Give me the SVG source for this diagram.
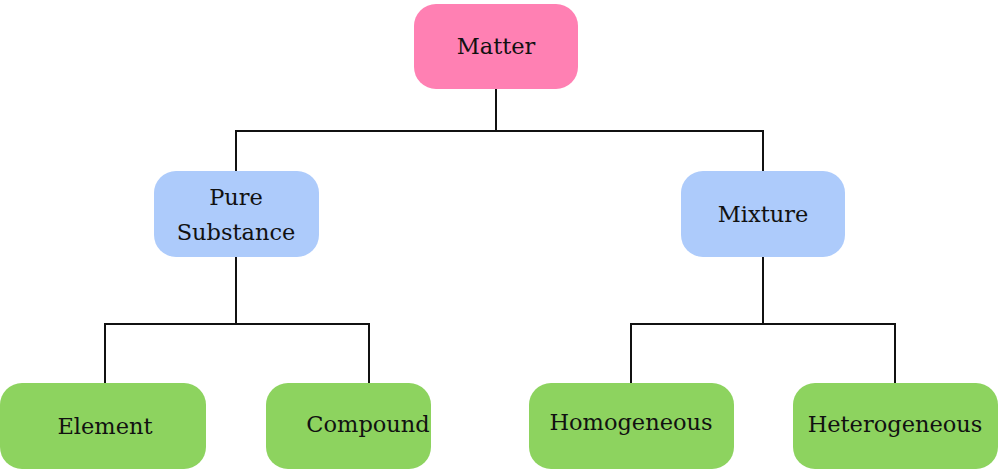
<svg xmlns="http://www.w3.org/2000/svg" width="1000" height="473" viewBox="0 0 1000 473">
<style>
.t{font-family:"DejaVu Serif","Liberation Serif",serif;font-size:22.5px;fill:#111;text-anchor:middle}
.c{stroke:#111;stroke-width:2;fill:none}
.p{fill:#FF80B3}.b{fill:#ADCBFB}.g{fill:#8DD35F}
</style>
<rect width="1000" height="473" fill="#fff"/>
<g id="connectors">
<path class="c" d="M496 89V131M236 171V131H763V171"/>
<path class="c" d="M236 257V324M105 383V324H369V383"/>
<path class="c" d="M763 257V324M631 383V324H895V383"/>
</g>
<g id="matter"><rect class="p" x="414" y="4" width="164" height="85" rx="22"/><text class="t" x="496" y="54">Matter</text></g>
<g id="pure"><rect class="b" x="154" y="171" width="165" height="86" rx="22"/><text class="t" x="236" y="205">Pure</text><text class="t" x="236" y="240">Substance</text></g>
<g id="mixture"><rect class="b" x="681" y="171" width="164" height="86" rx="22"/><text class="t" x="763" y="222">Mixture</text></g>
<g id="element"><rect class="g" x="0" y="383" width="206" height="86" rx="22"/><text class="t" x="105" y="434">Element</text></g>
<g id="compound"><rect class="g" x="266" y="383" width="165" height="86" rx="22"/><text class="t" x="368" y="432">Compound</text></g>
<g id="homogeneous"><rect class="g" x="529" y="383" width="205" height="86" rx="22"/><text class="t" x="631" y="430">Homogeneous</text></g>
<g id="heterogeneous"><rect class="g" x="793" y="383" width="205" height="86" rx="22"/><text class="t" x="895" y="432">Heterogeneous</text></g>
</svg>
